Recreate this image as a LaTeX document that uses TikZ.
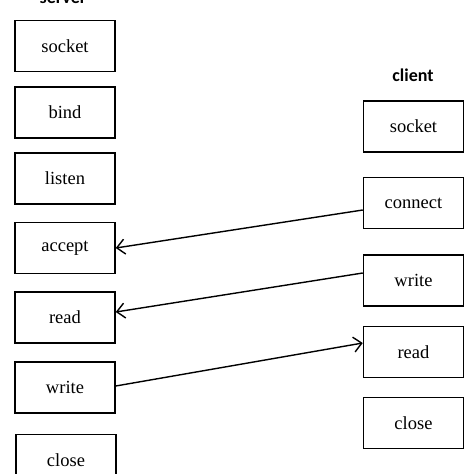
\documentclass[tikz,border=0pt]{standalone}
\usepackage{fontspec}
\setmainfont{Liberation Serif}
\newfontfamily\labelfont{Carlito}
\usetikzlibrary{arrows.meta}
\tikzset{
  callbox/.style={draw, line width=1.5pt, minimum width=100pt, minimum height=51pt,
    inner sep=0pt, font=\fontsize{18.5}{22}\selectfont},
  sidelabel/.style={anchor=base, font=\labelfont\bfseries\fontsize{18}{21}\selectfont},
}
\begin{document}
\begin{tikzpicture}[x=1pt, y=-1pt]
      \useasboundingbox (0,0) rectangle (474,474);
      \draw
        (63,3.5) node[sidelabel] (server){server}
        (413,81) node[sidelabel] (client){client};
      \draw
        (65,46) node[callbox] (ssocket){socket}
        (65,112.5) node[callbox] (sbind){bind}
        (65,178.5) node[callbox] (slisten){listen}
        (65,248) node[callbox] (saccept){accept}
        (65,317.5) node[callbox] (sread){read}
        (65,387.5) node[callbox] (swrite){write}
        (66,460) node[callbox] (sclose){close};
      \draw
        (413.5,126.5) node[callbox] (csocket){socket}
        (413.5,203) node[callbox] (cconnect){connect}
        (413.5,280.5) node[callbox] (cwrite){write}
        (413.5,352) node[callbox] (cread){read}
        (413.5,423) node[callbox] (cclose){close};
      \begin{scope}[line width=1.4pt, -{Straight Barb[length=8pt, width=15pt]}]
        \draw ([yshift=-7pt]cconnect.west) to (saccept.east);
        \draw ([yshift=7.5pt]cwrite.west) to ([yshift=5.5pt]sread.east);
        \draw ([yshift=1.5pt]swrite.east) to ([yshift=9pt]cread.west);
      \end{scope}
    \end{tikzpicture}
\end{document}
